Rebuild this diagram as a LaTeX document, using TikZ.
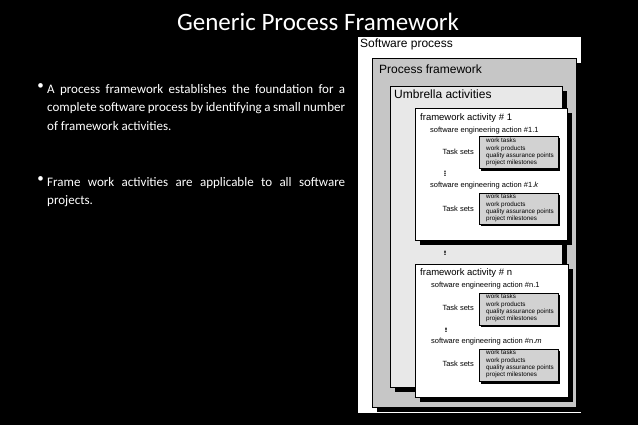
\documentclass[tikz,border=0pt]{standalone}
\usepackage{fontspec}
\setmainfont{Carlito}
\newfontfamily\diag{Liberation Sans}
\begin{document}
\begin{tikzpicture}[x=1pt,y=-1pt,
  shbox/.style={draw=black,line width=0.6pt},
  lbl/.style={anchor=north west,inner sep=0pt,font=\diag},
  tbox/.style={draw=black,fill=gray!35,line width=0.5pt,minimum width=79pt,minimum height=32pt,anchor=north west,inner sep=0pt},
  vdots/.style={font=\diag\fontsize{9}{9}\selectfont\bfseries,inner sep=0pt}]
\fill[black] (0,0) rectangle (638,425);
\useasboundingbox (0,0) rectangle (638,425);
\node[white,font=\fontsize{25}{25}\selectfont] (title) at (318,22) {Generic Process Framework};
% bullets
\node[anchor=north west,white,text width=298pt,align=justify,font=\fontsize{13}{18.5}\selectfont,inner sep=0pt] (b1) at (47,84) {A process framework establishes the foundation for a complete software process by identifying a small number of framework activities.};
\node[anchor=north east,white,inner sep=0pt,font=\fontsize{13}{18}\selectfont] (d1) at (44,83) {•};
\node[anchor=north west,white,text width=298pt,align=justify,font=\fontsize{13}{18.5}\selectfont,inner sep=0pt] (b2) at (47,177) {Frame work activities are applicable to all software projects.};
\node[anchor=north east,white,inner sep=0pt,font=\fontsize{13}{18}\selectfont] (d2) at (44,176) {•};
% diagram
\fill[white] (358,37) rectangle (581,413);
\node[lbl,font=\diag\fontsize{12}{12}\selectfont] (sp) at (360,39) {Software process};
\fill[black] (377,63) rectangle (581,412);
\draw[shbox,fill=gray!45] (372,58) rectangle (576,407);
\node[lbl,font=\diag\fontsize{12}{12}\selectfont] (pf) at (379,65) {Process framework};
\fill[black] (395,91) rectangle (567,392);
\draw[shbox,fill=gray!18] (390,86) rectangle (562,387);
\node[lbl,font=\diag\fontsize{12}{12}\selectfont] (ua) at (394,90) {Umbrella activities};
\node[vdots] (v0) at (445,252) {\shortstack{.\\[-6pt].\\[-6pt].}};
% fa1
\fill[black] (420,113) rectangle (572,245);
\draw[shbox,fill=white] (415,108) rectangle (567,240);
\node[lbl,font=\diag\fontsize{9.5}{9.5}\selectfont] (fa1) at (420,113) {framework activity \# 1};
\node[lbl,font=\diag\fontsize{7.5}{7.5}\selectfont] (a11) at (430,127) {software engineering action \#1.1};
\fill[black] (481,138) rectangle (560,171);
\node[tbox] (t11) at (479,136) {};
\node[lbl,font=\diag\fontsize{6.3}{7.4}\selectfont,align=left] at (486,138) {work tasks\\work products\\quality assurance points\\project milestones};
\node[font=\diag\fontsize{7.5}{7.5}\selectfont,anchor=east,inner sep=0pt] (ts11) at (474,152) {Task sets};
\node[vdots] (v1) at (445,173) {\shortstack{.\\[-6pt].\\[-6pt].}};
\node[lbl,font=\diag\fontsize{7.5}{7.5}\selectfont] (a1k) at (430,182) {software engineering action \#1.\textit{k}};
\fill[black] (481,195) rectangle (560,226);
\node[tbox,minimum height=31pt] (t1k) at (479,193) {};
\node[lbl,font=\diag\fontsize{6.3}{7.4}\selectfont,align=left] at (486,194) {work tasks\\work products\\quality assurance points\\project milestones};
\node[font=\diag\fontsize{7.5}{7.5}\selectfont,anchor=east,inner sep=0pt] (ts1k) at (474,209) {Task sets};
% fan
\fill[black] (420,269) rectangle (573,402);
\draw[shbox,fill=white] (415,264) rectangle (568,397);
\node[lbl,font=\diag\fontsize{9.5}{9.5}\selectfont] (fan) at (420,268) {framework activity \# n};
\node[lbl,font=\diag\fontsize{7.5}{7.5}\selectfont] (an1) at (431,282) {software engineering action \#n.1};
\fill[black] (481,295) rectangle (560,327);
\node[tbox] (tn1) at (479,293) {};
\node[lbl,font=\diag\fontsize{6.3}{7.4}\selectfont,align=left] at (486,294) {work tasks\\work products\\quality assurance points\\project milestones};
\node[font=\diag\fontsize{7.5}{7.5}\selectfont,anchor=east,inner sep=0pt] (tsn1) at (474,308) {Task sets};
\node[vdots] (v2) at (446,329) {\shortstack{.\\[-6pt].\\[-6pt].}};
\node[lbl,font=\diag\fontsize{7.5}{7.5}\selectfont] (anm) at (431,338) {software engineering action \#n.\textit{m}};
\fill[black] (481,351) rectangle (560,384);
\node[tbox] (tnm) at (479,349) {};
\node[lbl,font=\diag\fontsize{6.3}{7.4}\selectfont,align=left] at (486,350) {work tasks\\work products\\quality assurance points\\project milestones};
\node[font=\diag\fontsize{7.5}{7.5}\selectfont,anchor=east,inner sep=0pt] (tsnm) at (474,364) {Task sets};
\end{tikzpicture}
\end{document}
